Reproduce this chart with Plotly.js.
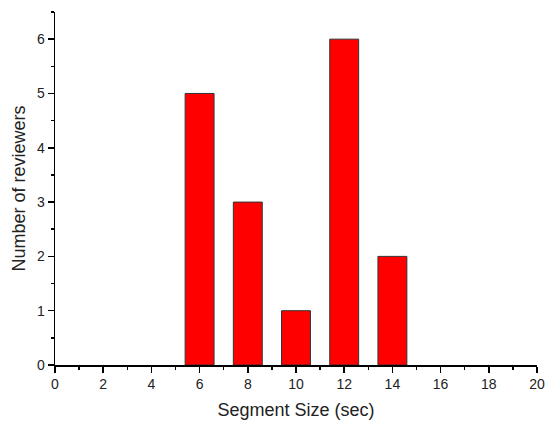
<!DOCTYPE html>
<html>
<head>
<meta charset="utf-8">
<script src="https://cdn.plot.ly/plotly-3.0.1.min.js"></script>
<style>
  html, body { margin: 0; padding: 0; background: #fff; }
  #plot { width: 550px; height: 426px; }
</style>
</head>
<body>
<div id="plot"></div>
<script>
// segment sizes (sec) and how many reviewers picked each one
var segmentSizes = [6, 8, 10, 12, 14];
var reviewerCounts = [5, 3, 1, 6, 2];

var trace = {
  x: segmentSizes,
  y: reviewerCounts,
  type: 'bar',
  width: 1.2,
  marker: { color: '#ff0000', line: { color: '#333333', width: 1 } },
  hoverinfo: 'x+y'
};

var fontFamily = 'Liberation Sans, Arial, sans-serif';
var tickFont = { family: fontFamily, size: 14, color: '#222' };
var titleFont = { family: fontFamily, size: 18, color: '#222' };

var layout = {
  width: 550,
  height: 426,
  margin: { t: 12, b: 61, l: 55, r: 13 },
  paper_bgcolor: '#fff',
  plot_bgcolor: '#fff',
  showlegend: false,
  xaxis: {
    range: [0, 20],
    dtick: 2,
    tick0: 0,
    ticks: 'outside',
    ticklen: 6,
    tickwidth: 1.5,
    tickcolor: '#000',
    showline: true,
    linecolor: '#000',
    linewidth: 1.5,
    showgrid: false,
    zeroline: false,
    tickfont: tickFont,
    minor: { dtick: 1, ticks: 'outside', ticklen: 3, tickcolor: '#000', tickwidth: 1.5, showgrid: false },
    title: { text: 'Segment Size (sec)', font: titleFont, standoff: 12 }
  },
  yaxis: {
    range: [0, 6.5],
    dtick: 1,
    tick0: 0,
    ticks: 'outside',
    ticklen: 6,
    tickwidth: 1.5,
    tickcolor: '#000',
    showline: true,
    linecolor: '#000',
    linewidth: 1.5,
    showgrid: false,
    zeroline: false,
    tickfont: tickFont,
    minor: { dtick: 0.5, ticks: 'outside', ticklen: 3, tickcolor: '#000', tickwidth: 1.5, showgrid: false },
    title: { text: 'Number of reviewers', font: titleFont, standoff: 6 }
  }
};

Plotly.newPlot('plot', [trace], layout, { displayModeBar: false, staticPlot: true });
</script>
</body>
</html>
